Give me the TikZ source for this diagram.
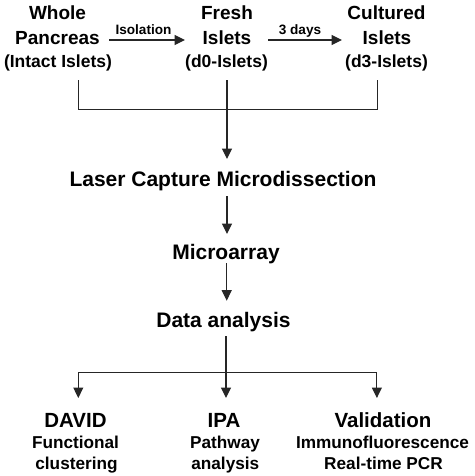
\documentclass[tikz,border=0pt]{standalone}
\usepackage{fontspec}
\setmainfont{Liberation Sans}
\usetikzlibrary{arrows.meta}
\begin{document}
\begin{tikzpicture}[x=1pt,y=-1pt,
  txt/.style={anchor=base,inner sep=0pt,text=black},
  top/.style={txt,font=\bfseries\fontsize{19}{19}\selectfont},
  sub/.style={txt,font=\bfseries\fontsize{17.5}{17.5}\selectfont},
  edge/.style={txt,font=\bfseries\fontsize{13.6}{13.6}\selectfont},
  mid/.style={txt,font=\bfseries\fontsize{21}{21}\selectfont},
  big/.style={txt,font=\bfseries\fontsize{20.5}{20.5}\selectfont},
  small/.style={txt,font=\bfseries\fontsize{17.2}{17.2}\selectfont},
  ln/.style={draw=black!85,line width=1.1pt},
  arr/.style={ln,-{Triangle[length=10.5pt,width=10pt]}}]
\useasboundingbox[fill=white] (0,0) rectangle (474,476);
% top row
\node[top] (w1) at (57.5,19.5) {Whole};
\node[top] (w2) at (57.5,45) {Pancreas};
\node[sub] (w3) at (58,68) {(Intact Islets)};
\node[top] (f1) at (227,19.5) {Fresh};
\node[top] (f2) at (227,45) {Islets};
\node[sub] (f3) at (226.5,68) {(d0-Islets)};
\node[top] (c1) at (386.5,19.5) {Cultured};
\node[top] (c2) at (387,45) {Islets};
\node[sub] (c3) at (386.5,68) {(d3-Islets)};
\node[edge] (iso) at (143.5,34.3) {Isolation};
\node[edge] (days) at (300,35) {3 days};
% middle
\node[mid] (lcm) at (223,186) {Laser Capture Microdissection};
\node[mid] (mic) at (226,259.5) {Microarray};
\node[mid] (da) at (223.5,327) {Data analysis};
% bottom
\node[big] (david) at (75.5,427.3) {DAVID};
\node[small] (david2) at (75.5,448.5) {Functional};
\node[small] (david3) at (76.5,469.5) {clustering};
\node[big] (ipa) at (224,427.3) {IPA};
\node[small] (ipa2) at (225,448.5) {Pathway};
\node[small] (ipa3) at (225.3,469.5) {analysis};
\node[big] (val) at (383,427.3) {Validation};
\node[small] (val2) at (382.5,448.5) {Immunofluorescence};
\node[small] (val3) at (383.5,469.5) {Real-time PCR};
% connector points
\coordinate (isoS) at (109,40);
\coordinate (isoE) at (185,40);
\coordinate (dayS) at (268,40);
\coordinate (dayE) at (342,40);
\coordinate (wB) at (78.5,80.5);
\coordinate (fB) at (227,80.5);
\coordinate (cB) at (377.3,80.5);
\coordinate (wJ) at (78.5,109.3);
\coordinate (cJ) at (377.3,109.3);
\coordinate (lcmT) at (227,159);
\coordinate (lcmB) at (227,196);
\coordinate (micT) at (227,234);
\coordinate (micB) at (226.7,263.3);
\coordinate (daT) at (226.7,300.7);
\coordinate (daB) at (226,336);
\coordinate (hJ) at (226,372.3);
\coordinate (lJ) at (78.3,372.3);
\coordinate (rJ) at (376.9,372.3);
\coordinate (davidT) at (78.3,398);
\coordinate (ipaT) at (226,398);
\coordinate (valT) at (376.9,398);
% connectors
\draw[arr] (isoS) -- (isoE);
\draw[arr] (dayS) -- (dayE);
\draw[ln] (wB) -- (wJ) -- (cJ) -- (cB);
\draw[arr] (fB) -- (lcmT);
\draw[arr] (lcmB) -- (micT);
\draw[arr] (micB) -- (daT);
\draw[ln] (daB) -- (hJ);
\draw[arr] (hJ) -- (lJ) -- (davidT);
\draw[arr] (hJ) -- (ipaT);
\draw[arr] (hJ) -- (rJ) -- (valT);
\end{tikzpicture}
\end{document}
